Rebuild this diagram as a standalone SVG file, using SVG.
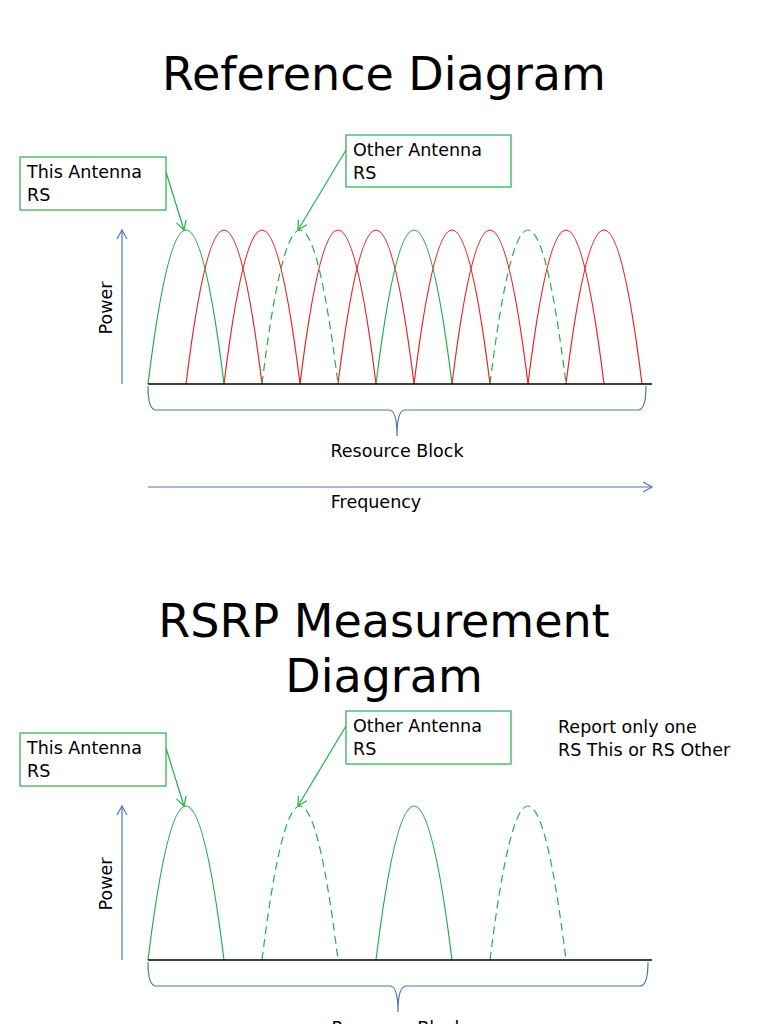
<svg xmlns="http://www.w3.org/2000/svg" width="768" height="1024" viewBox="0 0 768 1024">
<defs>
<style>
text{font-family:"DejaVu Sans",sans-serif;fill:#000}
.t{font-size:46px;text-anchor:middle}
.l{font-size:17.5px}
.g{fill:none;stroke:#22b04c;stroke-width:1.2}
.d{stroke-dasharray:8,5}
.r{fill:none;stroke:#e8262a;stroke-width:1.2}
.ax{stroke:#4a76b8;stroke-width:1.2;fill:none}
.box{fill:#fff;stroke:#22b04c;stroke-width:1.2}
</style>
<marker id="ab" markerWidth="12" markerHeight="12" refX="10" refY="6" orient="auto" markerUnits="userSpaceOnUse"><path d="M1,1 L10,6 L1,11" fill="none" stroke="#4a76b8" stroke-width="1.2"/></marker>
<marker id="ag" markerWidth="12" markerHeight="12" refX="10" refY="6" orient="auto" markerUnits="userSpaceOnUse"><path d="M1,1 L10,6 L1,11" fill="none" stroke="#22b04c" stroke-width="1.2"/></marker>
</defs>
<rect width="768" height="1024" fill="#fff"/>
<text class="t" x="384" y="90">Reference Diagram</text>
<text class="t" x="384" y="637">RSRP Measurement</text>
<text class="t" x="384" y="692">Diagram</text>
<g id="curves-top">
<path class="g" d="M148,384 Q186,76 224,384"/>
<path class="r" d="M186,384 Q224,76 262,384"/>
<path class="r" d="M224,384 Q262,76 300,384"/>
<path class="g d" d="M262,384 Q300,76 338,384"/>
<path class="r" d="M300,384 Q338,76 376,384"/>
<path class="r" d="M338,384 Q376,76 414,384"/>
<path class="g" d="M376,384 Q414,76 452,384"/>
<path class="r" d="M414,384 Q452,76 490,384"/>
<path class="r" d="M452,384 Q490,76 528,384"/>
<path class="g d" d="M490,384 Q528,76 566,384"/>
<path class="r" d="M528,384 Q566,76 604,384"/>
<path class="r" d="M566,384 Q604,76 642,384"/>
</g>
<g id="curves-bottom">
<path class="g" d="M148,960 Q186,652 224,960"/>
<path class="g d" d="M262,960 Q300,652 338,960"/>
<path class="g" d="M376,960 Q414,652 452,960"/>
<path class="g d" d="M490,960 Q528,652 566,960"/>
</g>
<g id="connectors">
<line x1="148" y1="384" x2="652" y2="384" stroke="#000" stroke-width="1.5"/>
<line x1="148" y1="960" x2="652" y2="960" stroke="#000" stroke-width="1.5"/>
<line class="ax" x1="122" y1="384" x2="122" y2="230" marker-end="url(#ab)"/>
<line class="ax" x1="122" y1="960" x2="122" y2="806" marker-end="url(#ab)"/>
<line class="ax" x1="148" y1="487" x2="652" y2="487" marker-end="url(#ab)"/>
<path class="ax" d="M148,386 Q148,410 156,410 L389,410 Q397,410 397,436 Q397,410 405,410 L638,410 Q646,410 646,386"/>
<path class="ax" d="M148,962 Q148,986 156,986 L390,986 Q398,986 398,1012 Q398,986 406,986 L640,986 Q648,986 648,962"/>
<line x1="166" y1="172" x2="184" y2="230" stroke="#22b04c" stroke-width="1.2" marker-end="url(#ag)"/>
<line x1="346" y1="150" x2="298" y2="230" stroke="#22b04c" stroke-width="1.2" marker-end="url(#ag)"/>
<line x1="166" y1="748" x2="184" y2="806" stroke="#22b04c" stroke-width="1.2" marker-end="url(#ag)"/>
<line x1="346" y1="726" x2="298" y2="806" stroke="#22b04c" stroke-width="1.2" marker-end="url(#ag)"/>
</g>
<g id="labels">
<text class="l" transform="translate(112,308) rotate(-90)" text-anchor="middle">Power</text>
<text class="l" transform="translate(112,884) rotate(-90)" text-anchor="middle">Power</text>
<text class="l" x="397" y="457" text-anchor="middle">Resource  Block</text>
<text class="l" x="376" y="508" text-anchor="middle">Frequency</text>
<text class="l" x="398" y="1034" text-anchor="middle">Resource  Block</text>
<text class="l" x="558" y="733">Report only one</text>
<text class="l" x="558" y="756">RS This or RS Other</text>
</g>
<g id="this-top"><rect class="box" x="20" y="157" width="146" height="53"/><text class="l" x="27" y="178">This Antenna</text><text class="l" x="27" y="201">RS</text></g>
<g id="other-top"><rect class="box" x="346" y="135" width="165" height="52"/><text class="l" x="353" y="156">Other Antenna</text><text class="l" x="353" y="179">RS</text></g>
<g id="this-bottom"><rect class="box" x="20" y="733" width="146" height="53"/><text class="l" x="27" y="754">This Antenna</text><text class="l" x="27" y="777">RS</text></g>
<g id="other-bottom"><rect class="box" x="346" y="711" width="165" height="53"/><text class="l" x="353" y="732">Other Antenna</text><text class="l" x="353" y="755">RS</text></g>
</svg>
